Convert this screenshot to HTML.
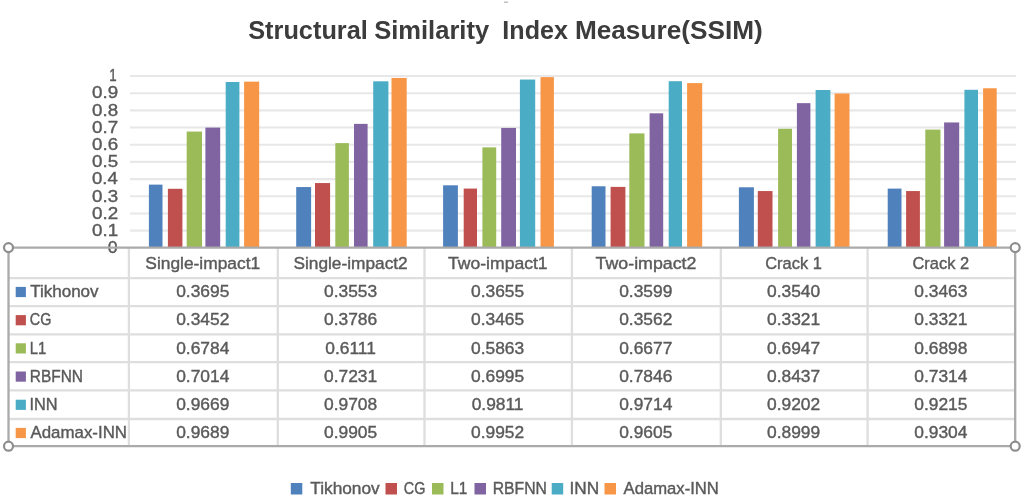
<!DOCTYPE html>
<html lang="en"><head><meta charset="utf-8"><title>Structural Similarity Index Measure(SSIM)</title>
<style>html,body{margin:0;padding:0;background:#fff}body{width:1025px;height:498px;overflow:hidden}svg{display:block;filter:blur(0.6px)}text{font-family:"Liberation Sans",sans-serif;fill:#5a5a5a;stroke:#5a5a5a;stroke-width:0.4px}</style></head><body>
<svg width="1025" height="498" viewBox="0 0 1025 498">
<rect x="-10" y="-10" width="1045" height="518" fill="#fff"/>
<rect x="504" y="1.5" width="4" height="1.4" fill="#bdbdbd"/>
<text x="248.24" y="38.80" font-size="25.8" textLength="119.59" lengthAdjust="spacingAndGlyphs" font-weight="bold" style="fill:#3c3c3c;stroke:none">Structural</text>
<text x="374.13" y="38.80" font-size="25.8" textLength="115.04" lengthAdjust="spacingAndGlyphs" font-weight="bold" style="fill:#3c3c3c;stroke:none">Similarity</text>
<text x="502.37" y="38.80" font-size="25.8" textLength="65.61" lengthAdjust="spacingAndGlyphs" font-weight="bold" style="fill:#3c3c3c;stroke:none">Index</text>
<text x="574.90" y="38.80" font-size="25.8" textLength="187.88" lengthAdjust="spacingAndGlyphs" font-weight="bold" style="fill:#3c3c3c;stroke:none">Measure(SSIM)</text>
<line x1="130.0" x2="1016.0" y1="230.62" y2="230.62" stroke="#e8e8e8" stroke-width="2.1"/>
<line x1="130.0" x2="1016.0" y1="213.44" y2="213.44" stroke="#e8e8e8" stroke-width="2.1"/>
<line x1="130.0" x2="1016.0" y1="196.26" y2="196.26" stroke="#e8e8e8" stroke-width="2.1"/>
<line x1="130.0" x2="1016.0" y1="179.08" y2="179.08" stroke="#e8e8e8" stroke-width="2.1"/>
<line x1="130.0" x2="1016.0" y1="161.90" y2="161.90" stroke="#e8e8e8" stroke-width="2.1"/>
<line x1="130.0" x2="1016.0" y1="144.72" y2="144.72" stroke="#e8e8e8" stroke-width="2.1"/>
<line x1="130.0" x2="1016.0" y1="127.54" y2="127.54" stroke="#e8e8e8" stroke-width="2.1"/>
<line x1="130.0" x2="1016.0" y1="110.36" y2="110.36" stroke="#e8e8e8" stroke-width="2.1"/>
<line x1="130.0" x2="1016.0" y1="93.18" y2="93.18" stroke="#e8e8e8" stroke-width="2.1"/>
<line x1="130.0" x2="1016.0" y1="76.00" y2="76.00" stroke="#e8e8e8" stroke-width="2.1"/>
<text x="107.69" y="253.10" font-size="16.8" textLength="9.85" lengthAdjust="spacingAndGlyphs">0</text>
<text x="92.05" y="235.92" font-size="16.8" textLength="26.10" lengthAdjust="spacingAndGlyphs">0.1</text>
<text x="92.05" y="218.74" font-size="16.8" textLength="26.20" lengthAdjust="spacingAndGlyphs">0.2</text>
<text x="92.05" y="201.56" font-size="16.8" textLength="26.00" lengthAdjust="spacingAndGlyphs">0.3</text>
<text x="92.06" y="184.38" font-size="16.8" textLength="25.80" lengthAdjust="spacingAndGlyphs">0.4</text>
<text x="92.05" y="167.20" font-size="16.8" textLength="26.00" lengthAdjust="spacingAndGlyphs">0.5</text>
<text x="92.05" y="150.02" font-size="16.8" textLength="26.00" lengthAdjust="spacingAndGlyphs">0.6</text>
<text x="92.05" y="132.84" font-size="16.8" textLength="26.20" lengthAdjust="spacingAndGlyphs">0.7</text>
<text x="92.05" y="115.66" font-size="16.8" textLength="26.00" lengthAdjust="spacingAndGlyphs">0.8</text>
<text x="92.05" y="98.48" font-size="16.8" textLength="26.10" lengthAdjust="spacingAndGlyphs">0.9</text>
<text x="109.20" y="81.30" font-size="16.8" textLength="7.42" lengthAdjust="spacingAndGlyphs">1</text>
<rect x="148.9" y="184.62" width="13.6" height="63.18" fill="#4F81BD"/>
<rect x="167.9" y="188.79" width="14.5" height="59.01" fill="#C0504D"/>
<rect x="186.7" y="131.55" width="15.3" height="116.25" fill="#9BBB59"/>
<rect x="205.4" y="127.60" width="14.8" height="120.20" fill="#8064A2"/>
<rect x="225.7" y="81.99" width="13.7" height="165.81" fill="#4BACC6"/>
<rect x="244.1" y="81.64" width="15.1" height="166.16" fill="#F79646"/>
<rect x="296.2" y="187.06" width="14.9" height="60.74" fill="#4F81BD"/>
<rect x="315.0" y="183.06" width="15.1" height="64.74" fill="#C0504D"/>
<rect x="335.3" y="143.11" width="13.6" height="104.69" fill="#9BBB59"/>
<rect x="354.0" y="123.87" width="13.6" height="123.93" fill="#8064A2"/>
<rect x="373.2" y="81.32" width="15.2" height="166.48" fill="#4BACC6"/>
<rect x="391.5" y="77.93" width="15.2" height="169.87" fill="#F79646"/>
<rect x="443.1" y="185.31" width="14.8" height="62.49" fill="#4F81BD"/>
<rect x="463.7" y="188.57" width="13.3" height="59.23" fill="#C0504D"/>
<rect x="482.4" y="147.37" width="13.8" height="100.43" fill="#9BBB59"/>
<rect x="501.2" y="127.93" width="14.8" height="119.87" fill="#8064A2"/>
<rect x="519.9" y="79.55" width="15.3" height="168.25" fill="#4BACC6"/>
<rect x="540.5" y="77.12" width="13.4" height="170.68" fill="#F79646"/>
<rect x="591.7" y="186.27" width="13.8" height="61.53" fill="#4F81BD"/>
<rect x="610.6" y="186.90" width="14.8" height="60.90" fill="#C0504D"/>
<rect x="629.3" y="133.39" width="15.2" height="114.41" fill="#9BBB59"/>
<rect x="649.6" y="113.31" width="13.6" height="134.49" fill="#8064A2"/>
<rect x="668.7" y="81.21" width="13.3" height="166.59" fill="#4BACC6"/>
<rect x="687.1" y="83.09" width="15.1" height="164.71" fill="#F79646"/>
<rect x="738.9" y="187.28" width="15.0" height="60.52" fill="#4F81BD"/>
<rect x="757.8" y="191.05" width="14.7" height="56.75" fill="#C0504D"/>
<rect x="778.1" y="128.75" width="13.9" height="119.05" fill="#9BBB59"/>
<rect x="796.9" y="103.15" width="13.5" height="144.65" fill="#8064A2"/>
<rect x="815.6" y="90.01" width="14.8" height="157.79" fill="#4BACC6"/>
<rect x="834.6" y="93.50" width="14.9" height="154.30" fill="#F79646"/>
<rect x="887.7" y="188.61" width="13.8" height="59.19" fill="#4F81BD"/>
<rect x="906.1" y="191.05" width="13.8" height="56.75" fill="#C0504D"/>
<rect x="925.3" y="129.59" width="15.2" height="118.21" fill="#9BBB59"/>
<rect x="944.1" y="122.45" width="15.1" height="125.35" fill="#8064A2"/>
<rect x="964.4" y="89.79" width="13.6" height="158.01" fill="#4BACC6"/>
<rect x="983.1" y="88.26" width="13.6" height="159.54" fill="#F79646"/>
<line x1="8.5" x2="1015.2" y1="278.10" y2="278.10" stroke="#dedede" stroke-width="2.3"/>
<line x1="8.5" x2="1015.2" y1="306.20" y2="306.20" stroke="#dedede" stroke-width="2.3"/>
<line x1="8.5" x2="1015.2" y1="334.30" y2="334.30" stroke="#dedede" stroke-width="2.3"/>
<line x1="8.5" x2="1015.2" y1="362.20" y2="362.20" stroke="#dedede" stroke-width="2.3"/>
<line x1="8.5" x2="1015.2" y1="390.40" y2="390.40" stroke="#dedede" stroke-width="2.3"/>
<line x1="8.5" x2="1015.2" y1="419.00" y2="419.00" stroke="#dedede" stroke-width="2.3"/>
<line x1="128.90" x2="128.90" y1="247.80" y2="446.20" stroke="#dedede" stroke-width="2.3"/>
<line x1="277.80" x2="277.80" y1="247.80" y2="446.20" stroke="#dedede" stroke-width="2.3"/>
<line x1="424.50" x2="424.50" y1="247.80" y2="446.20" stroke="#dedede" stroke-width="2.3"/>
<line x1="571.90" x2="571.90" y1="247.80" y2="446.20" stroke="#dedede" stroke-width="2.3"/>
<line x1="720.80" x2="720.80" y1="247.80" y2="446.20" stroke="#dedede" stroke-width="2.3"/>
<line x1="867.60" x2="867.60" y1="247.80" y2="446.20" stroke="#dedede" stroke-width="2.3"/>
<path d="M8.5 247.7H1015.2V446.2H8.5Z" fill="none" stroke="#aaaaaa" stroke-width="2.3"/>
<circle cx="8.5" cy="247.6" r="4.5" fill="#fff" stroke="#8e8e8e" stroke-width="2.2"/>
<circle cx="1015.2" cy="247.6" r="4.5" fill="#fff" stroke="#8e8e8e" stroke-width="2.2"/>
<circle cx="8.5" cy="446.2" r="4.5" fill="#fff" stroke="#8e8e8e" stroke-width="2.2"/>
<circle cx="1015.2" cy="446.2" r="4.5" fill="#fff" stroke="#8e8e8e" stroke-width="2.2"/>
<text x="145.37" y="268.70" font-size="16.8" textLength="114.75" lengthAdjust="spacingAndGlyphs">Single-impact1</text>
<text x="293.47" y="268.70" font-size="16.8" textLength="114.23" lengthAdjust="spacingAndGlyphs">Single-impact2</text>
<text x="448.00" y="268.70" font-size="16.8" textLength="99.62" lengthAdjust="spacingAndGlyphs">Two-impact1</text>
<text x="595.64" y="268.70" font-size="16.8" textLength="100.72" lengthAdjust="spacingAndGlyphs">Two-impact2</text>
<text x="765.28" y="268.70" font-size="16.8" textLength="56.57" lengthAdjust="spacingAndGlyphs">Crack 1</text>
<text x="912.48" y="268.70" font-size="16.8" textLength="56.65" lengthAdjust="spacingAndGlyphs">Crack 2</text>
<rect x="15.7" y="286.90" width="10.2" height="10.2" fill="#4F81BD"/>
<text x="30.16" y="297.10" font-size="16.8" textLength="68.44" lengthAdjust="spacingAndGlyphs">Tikhonov</text>
<text x="176.17" y="297.10" font-size="16.8" textLength="53.17" lengthAdjust="spacingAndGlyphs">0.3695</text>
<text x="323.97" y="297.10" font-size="16.8" textLength="53.17" lengthAdjust="spacingAndGlyphs">0.3553</text>
<text x="471.02" y="297.10" font-size="16.8" textLength="53.17" lengthAdjust="spacingAndGlyphs">0.3655</text>
<text x="619.17" y="297.10" font-size="16.8" textLength="53.17" lengthAdjust="spacingAndGlyphs">0.3599</text>
<text x="767.02" y="297.10" font-size="16.8" textLength="53.17" lengthAdjust="spacingAndGlyphs">0.3540</text>
<text x="914.22" y="297.10" font-size="16.8" textLength="53.17" lengthAdjust="spacingAndGlyphs">0.3463</text>
<rect x="15.7" y="315.10" width="10.2" height="10.2" fill="#C0504D"/>
<text x="29.78" y="325.30" font-size="16.8" textLength="21.60" lengthAdjust="spacingAndGlyphs">CG</text>
<text x="176.17" y="325.30" font-size="16.8" textLength="53.17" lengthAdjust="spacingAndGlyphs">0.3452</text>
<text x="323.97" y="325.30" font-size="16.8" textLength="53.17" lengthAdjust="spacingAndGlyphs">0.3786</text>
<text x="471.02" y="325.30" font-size="16.8" textLength="53.17" lengthAdjust="spacingAndGlyphs">0.3465</text>
<text x="619.17" y="325.30" font-size="16.8" textLength="53.17" lengthAdjust="spacingAndGlyphs">0.3562</text>
<text x="767.02" y="325.30" font-size="16.8" textLength="53.17" lengthAdjust="spacingAndGlyphs">0.3321</text>
<text x="914.22" y="325.30" font-size="16.8" textLength="53.17" lengthAdjust="spacingAndGlyphs">0.3321</text>
<rect x="15.7" y="343.30" width="10.2" height="10.2" fill="#9BBB59"/>
<text x="29.81" y="353.50" font-size="16.8" textLength="16.60" lengthAdjust="spacingAndGlyphs">L1</text>
<text x="176.17" y="353.50" font-size="16.8" textLength="53.17" lengthAdjust="spacingAndGlyphs">0.6784</text>
<text x="325.26" y="353.50" font-size="16.8" textLength="50.59" lengthAdjust="spacingAndGlyphs">0.6111</text>
<text x="471.02" y="353.50" font-size="16.8" textLength="53.17" lengthAdjust="spacingAndGlyphs">0.5863</text>
<text x="619.17" y="353.50" font-size="16.8" textLength="53.17" lengthAdjust="spacingAndGlyphs">0.6677</text>
<text x="767.02" y="353.50" font-size="16.8" textLength="53.17" lengthAdjust="spacingAndGlyphs">0.6947</text>
<text x="914.22" y="353.50" font-size="16.8" textLength="53.17" lengthAdjust="spacingAndGlyphs">0.6898</text>
<rect x="15.7" y="371.50" width="10.2" height="10.2" fill="#8064A2"/>
<text x="29.76" y="381.70" font-size="16.8" textLength="53.24" lengthAdjust="spacingAndGlyphs">RBFNN</text>
<text x="176.17" y="381.70" font-size="16.8" textLength="53.17" lengthAdjust="spacingAndGlyphs">0.7014</text>
<text x="323.97" y="381.70" font-size="16.8" textLength="53.17" lengthAdjust="spacingAndGlyphs">0.7231</text>
<text x="471.02" y="381.70" font-size="16.8" textLength="53.17" lengthAdjust="spacingAndGlyphs">0.6995</text>
<text x="619.17" y="381.70" font-size="16.8" textLength="53.17" lengthAdjust="spacingAndGlyphs">0.7846</text>
<text x="767.02" y="381.70" font-size="16.8" textLength="53.17" lengthAdjust="spacingAndGlyphs">0.8437</text>
<text x="914.22" y="381.70" font-size="16.8" textLength="53.17" lengthAdjust="spacingAndGlyphs">0.7314</text>
<rect x="15.7" y="399.70" width="10.2" height="10.2" fill="#4BACC6"/>
<text x="29.53" y="409.90" font-size="16.8" textLength="28.11" lengthAdjust="spacingAndGlyphs">INN</text>
<text x="176.17" y="409.90" font-size="16.8" textLength="53.17" lengthAdjust="spacingAndGlyphs">0.9669</text>
<text x="323.97" y="409.90" font-size="16.8" textLength="53.17" lengthAdjust="spacingAndGlyphs">0.9708</text>
<text x="471.66" y="409.90" font-size="16.8" textLength="51.88" lengthAdjust="spacingAndGlyphs">0.9811</text>
<text x="619.17" y="409.90" font-size="16.8" textLength="53.17" lengthAdjust="spacingAndGlyphs">0.9714</text>
<text x="767.02" y="409.90" font-size="16.8" textLength="53.17" lengthAdjust="spacingAndGlyphs">0.9202</text>
<text x="914.22" y="409.90" font-size="16.8" textLength="53.17" lengthAdjust="spacingAndGlyphs">0.9215</text>
<rect x="15.7" y="427.90" width="10.2" height="10.2" fill="#F79646"/>
<text x="30.50" y="438.10" font-size="16.8" textLength="96.51" lengthAdjust="spacingAndGlyphs">Adamax-INN</text>
<text x="176.17" y="438.10" font-size="16.8" textLength="53.17" lengthAdjust="spacingAndGlyphs">0.9689</text>
<text x="323.97" y="438.10" font-size="16.8" textLength="53.17" lengthAdjust="spacingAndGlyphs">0.9905</text>
<text x="471.02" y="438.10" font-size="16.8" textLength="53.17" lengthAdjust="spacingAndGlyphs">0.9952</text>
<text x="619.17" y="438.10" font-size="16.8" textLength="53.17" lengthAdjust="spacingAndGlyphs">0.9605</text>
<text x="767.02" y="438.10" font-size="16.8" textLength="53.17" lengthAdjust="spacingAndGlyphs">0.8999</text>
<text x="914.22" y="438.10" font-size="16.8" textLength="53.17" lengthAdjust="spacingAndGlyphs">0.9304</text>
<rect x="290.8" y="483" width="11.5" height="11.5" fill="#4F81BD"/>
<text x="310.25" y="494.30" font-size="16.8" textLength="69.44" lengthAdjust="spacingAndGlyphs">Tikhonov</text>
<rect x="385.5" y="483" width="11.5" height="11.5" fill="#C0504D"/>
<text x="403.78" y="494.30" font-size="16.8" textLength="21.60" lengthAdjust="spacingAndGlyphs">CG</text>
<rect x="432.0" y="483" width="11.5" height="11.5" fill="#9BBB59"/>
<text x="450.27" y="494.30" font-size="16.8" textLength="17.17" lengthAdjust="spacingAndGlyphs">L1</text>
<rect x="474.5" y="483" width="11.5" height="11.5" fill="#8064A2"/>
<text x="492.74" y="494.30" font-size="16.8" textLength="54.19" lengthAdjust="spacingAndGlyphs">RBFNN</text>
<rect x="551.7" y="483" width="11.5" height="11.5" fill="#4BACC6"/>
<text x="569.45" y="494.30" font-size="16.8" textLength="29.67" lengthAdjust="spacingAndGlyphs">INN</text>
<rect x="604.5" y="483" width="11.5" height="11.5" fill="#F79646"/>
<text x="623.60" y="494.30" font-size="16.8" textLength="95.30" lengthAdjust="spacingAndGlyphs">Adamax-INN</text>
</svg></body></html>
